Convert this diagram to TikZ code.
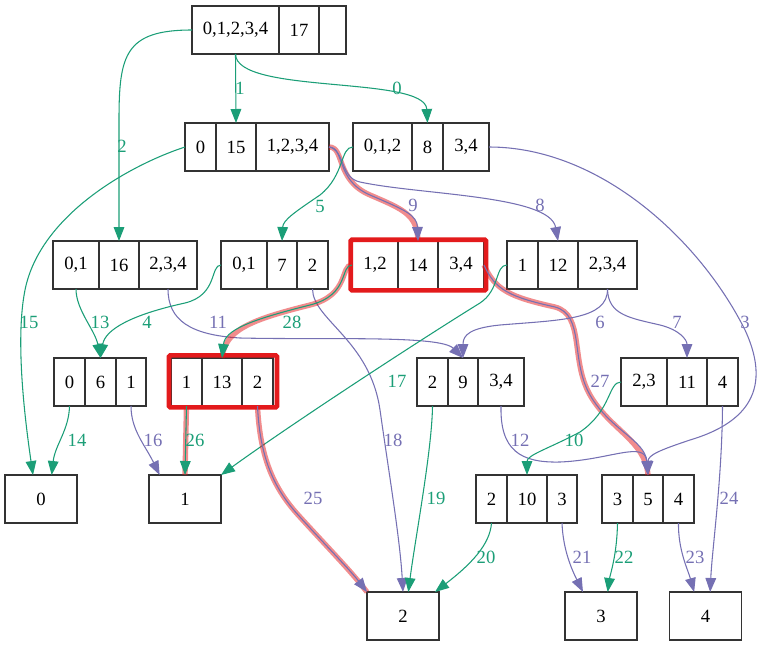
\documentclass[tikz,border=0pt]{standalone}
\usepackage{fontspec}
\setmainfont{Liberation Serif}
\usetikzlibrary{arrows.meta}
\definecolor{gGreen}{HTML}{1B9E77}
\definecolor{gPurple}{HTML}{7570B3}
\definecolor{hRed}{HTML}{E31A1C}

\begin{document}
\begin{tikzpicture}[yscale=-1,x=0.75pt,y=0.75pt,>={Triangle[length=10.5pt,width=8pt]},font=\fontsize{14}{16}\selectfont]
		\tikzstyle{CELL} = [draw=black!80, line width=1pt, minimum height=36pt, inner sep=0pt, outer sep=0pt]
		\tikzstyle{LEAF} = [CELL, minimum width=54pt]
		\tikzstyle{lo} = [->, draw=gGreen, line width=0.8pt]
		\tikzstyle{hi} = [->, draw=gPurple, line width=0.8pt]
		\tikzstyle{hilite} = [preaction={-, draw=hRed, draw opacity=0.5, line width=4pt}]
		\tikzstyle{hbox} = [draw=hRed, line width=3.5pt, rounded corners=1pt]
		\tikzstyle{glab} = [text=gGreen, inner sep=1pt]
		\tikzstyle{plab} = [text=gPurple, inner sep=1pt]
		\useasboundingbox (0,0) rectangle (763,646);

		% records
		\node[CELL, minimum width=65.25pt] (l17) at (235.5,30) {0,1,2,3,4};
		\node[CELL, minimum width=30pt] (m17) at (299,30) {17};
		\node[CELL, minimum width=20.25pt] (r17) at (332.5,30) {};

		\node[CELL, minimum width=23.25pt] (l15) at (200.5,147) {0};
		\node[CELL, minimum width=30pt] (m15) at (236,147) {15};
		\node[CELL, minimum width=54.75pt] (r15) at (292.5,147) {1,2,3,4};

		\node[CELL, minimum width=44.25pt] (l8) at (382.5,147) {0,1,2};
		\node[CELL, minimum width=23.25pt] (m8) at (427.5,147) {8};
		\node[CELL, minimum width=34.5pt] (r8) at (466,147) {3,4};

		\node[CELL, minimum width=34.5pt] (l16) at (76,265) {0,1};
		\node[CELL, minimum width=30pt] (m16) at (119,265) {16};
		\node[CELL, minimum width=43.5pt] (r16) at (168,265) {2,3,4};

		\node[CELL, minimum width=34.5pt] (l7) at (244,265) {0,1};
		\node[CELL, minimum width=22.5pt] (m7) at (282,265) {7};
		\node[CELL, minimum width=23.25pt] (r7) at (312.5,265) {2};

		\node[CELL, minimum width=34.5pt] (l14) at (375,265) {1,2};
		\node[CELL, minimum width=30pt] (m14) at (418,265) {14};
		\node[CELL, minimum width=34.5pt] (r14) at (461,265) {3,4};

		\node[CELL, minimum width=23.25pt] (l12) at (522.5,265) {1};
		\node[CELL, minimum width=30pt] (m12) at (558,265) {12};
		\node[CELL, minimum width=44.25pt] (r12) at (607.5,265) {2,3,4};

		\node[CELL, minimum width=23.25pt] (l6) at (69.5,382) {0};
		\node[CELL, minimum width=23.25pt] (m6) at (100.5,382) {6};
		\node[CELL, minimum width=22.5pt] (r6) at (131,382) {1};

		\node[CELL, minimum width=23.25pt] (l13) at (186.5,382) {1};
		\node[CELL, minimum width=30pt] (m13) at (222,382) {13};
		\node[CELL, minimum width=23.25pt] (r13) at (257.5,382) {2};

		\node[CELL, minimum width=23.25pt] (l9) at (432.5,382) {2};
		\node[CELL, minimum width=22.5pt] (m9) at (463,382) {9};
		\node[CELL, minimum width=34.5pt] (r9) at (501,382) {3,4};

		\node[CELL, minimum width=34.5pt] (l11) at (644,382) {2,3};
		\node[CELL, minimum width=30pt] (m11) at (687,382) {11};
		\node[CELL, minimum width=23.25pt] (r11) at (722.5,382) {4};

		\node[CELL, minimum width=23.25pt] (l10) at (491.5,499) {2};
		\node[CELL, minimum width=30pt] (m10) at (527,499) {10};
		\node[CELL, minimum width=22.5pt] (r10) at (562,499) {3};

		\node[CELL, minimum width=23.25pt] (l5) at (617.5,499) {3};
		\node[CELL, minimum width=22.5pt] (m5) at (648,499) {5};
		\node[CELL, minimum width=23.25pt] (r5) at (678.5,499) {4};

		% leaves
		\node[LEAF] (t0) at (41,499) {0};
		\node[LEAF] (t1) at (185,499) {1};
		\node[LEAF] (t2) at (403,616) {2};
		\node[LEAF] (t3) at (601,616) {3};
		\node[LEAF] (t4) at (705.5,616) {4};

		% marked path
		\draw[hbox] ([shift={(-1pt,-1pt)}]l14.north west) rectangle ([shift={(1.5pt,1pt)}]r14.south east);
		\draw[hbox] ([shift={(-1.5pt,-2pt)}]l13.north west) rectangle ([shift={(3pt,1pt)}]r13.south east);

		% edges
		\draw[lo] (l17.south) -- (m15.north);
		\draw[lo] (l17.south) .. controls (236,95) and (425,75) .. (m8.north);
		\draw[lo] (l17.west) .. controls (125,30) and (119,55) .. (119,120) -- (m16.north);
		\draw[lo] (l15.west) .. controls (130,165) and (40,215) .. (25,290) .. controls (15,340) and (25,420) .. ([xshift=-6pt]t0.north);
		\draw[hi, hilite] (r15.east) .. controls (345,147) and (335,180) .. (370,195) .. controls (405,210) and (417,215) .. (m14.north);
		\draw[hi] (r15.east) .. controls (345,150) and (340,178) .. (360,182) .. controls (420,195) and (550,195) .. (m12.north);
		\draw[lo] (l8.west) .. controls (340,147) and (345,175) .. (320,195) .. controls (295,212) and (283,220) .. (m7.north);
		\draw[hi] (r8.east) .. controls (600,147) and (700,240) .. (745,330) .. controls (775,395) and (740,425) .. (690,440) .. controls (660,450) and (648,455) .. (m5.north);
		\draw[lo] (l16.south) .. controls (76,310) and (95,330) .. (m6.north);
		\draw[hi] (r16.south) .. controls (168,320) and (190,335) .. (240,338) .. controls (330,340) and (440,335) .. (m9.north);
		\draw[lo] (l7.west) .. controls (210,265) and (218,295) .. (185,303) .. controls (130,315) and (105,330) .. (m6.north);
		\draw[hi] (r7.south) .. controls (313,320) and (370,340) .. (380,410) .. controls (390,480) and (400,540) .. (t2.north);
		\draw[lo, hilite] (l14.west) .. controls (340,265) and (350,295) .. (310,305) .. controls (250,320) and (225,330) .. (m13.north);
		\draw[hi, hilite] (r14.east) .. controls (495,290) and (510,297) .. (555,307) .. controls (585,315) and (570,360) .. (590,395) .. controls (610,430) and (645,440) .. (m5.north);
		\draw[lo] (l12.west) .. controls (495,265) and (500,290) .. (480,303) .. controls (420,340) and (290,425) .. (t1.north east);
		\draw[hi] (r12.south) .. controls (608,320) and (560,320) .. (500,325) .. controls (470,328) and (463,335) .. (m9.north);
		\draw[hi] (r12.south) .. controls (608,315) and (630,318) .. (660,325) .. controls (680,330) and (687,340) .. (m11.north);
		\draw[lo] (l6.south) .. controls (69,430) and (55,445) .. ([xshift=8pt]t0.north);
		\draw[hi] (r6.south) .. controls (131,430) and (145,445) .. ([xshift=-19pt]t1.north);
		\draw[lo, hilite] (l13.south) -- (t1.north);
		\draw[hi, hilite] (r13.south) .. controls (260,460) and (275,490) .. (300,517) .. controls (330,550) and (350,570) .. (t2.north west);
		\draw[lo] (l9.south) .. controls (432,450) and (415,540) .. ([xshift=4pt]t2.north);
		\draw[hi] (r9.south) .. controls (500,450) and (520,463) .. (560,462) .. controls (610,460) and (645,440) .. (m5.north);
		\draw[lo] (l11.west) .. controls (608,382) and (612,410) .. (580,432) .. controls (550,448) and (527,455) .. (m10.north);
		\draw[hi] (r11.south) .. controls (722,480) and (712,550) .. ([xshift=3.5pt]t4.north);
		\draw[lo] (l10.south) .. controls (490,545) and (470,565) .. ([xshift=-3pt]t2.north east);
		\draw[hi] (r10.south) .. controls (563,550) and (572,570) .. ([xshift=-13.5pt]t3.north);
		\draw[lo] (l5.south) .. controls (617,555) and (610,575) .. ([xshift=5pt]t3.north);
		\draw[hi] (r5.south) .. controls (678,550) and (688,570) .. ([xshift=-8.5pt]t4.north);

		% edge labels
		\node[glab] (e1) at (240,88) {1};
		\node[glab] (e0) at (397,88) {0};
		\node[glab] (e2) at (122,146) {2};
		\node[plab] (e9) at (413,205) {9};
		\node[plab] (e8) at (540,205) {8};
		\node[glab] (e5) at (320,206) {5};
		\node[glab] (e15) at (29,322) {15};
		\node[glab] (e13) at (100,322) {13};
		\node[glab] (e4) at (147,322) {4};
		\node[plab] (e11) at (218,322) {11};
		\node[glab] (e28) at (292,322) {28};
		\node[plab] (e6) at (600,322) {6};
		\node[plab] (e7) at (677,322) {7};
		\node[plab] (e3) at (745,322) {3};
		\node[glab] (e17) at (397,381) {17};
		\node[plab] (e27) at (600,381) {27};
		\node[glab] (e14) at (77,440) {14};
		\node[plab] (e16) at (153,440) {16};
		\node[glab] (e26) at (195,440) {26};
		\node[plab] (e18) at (393,440) {18};
		\node[plab] (e12) at (520,440) {12};
		\node[glab] (e10) at (574,440) {10};
		\node[plab] (e25) at (313,498) {25};
		\node[glab] (e19) at (436,498) {19};
		\node[plab] (e24) at (729,498) {24};
		\node[glab] (e20) at (486,557) {20};
		\node[plab] (e21) at (582,557) {21};
		\node[glab] (e22) at (624,557) {22};
		\node[plab] (e23) at (695,557) {23};
\end{tikzpicture}
\end{document}
